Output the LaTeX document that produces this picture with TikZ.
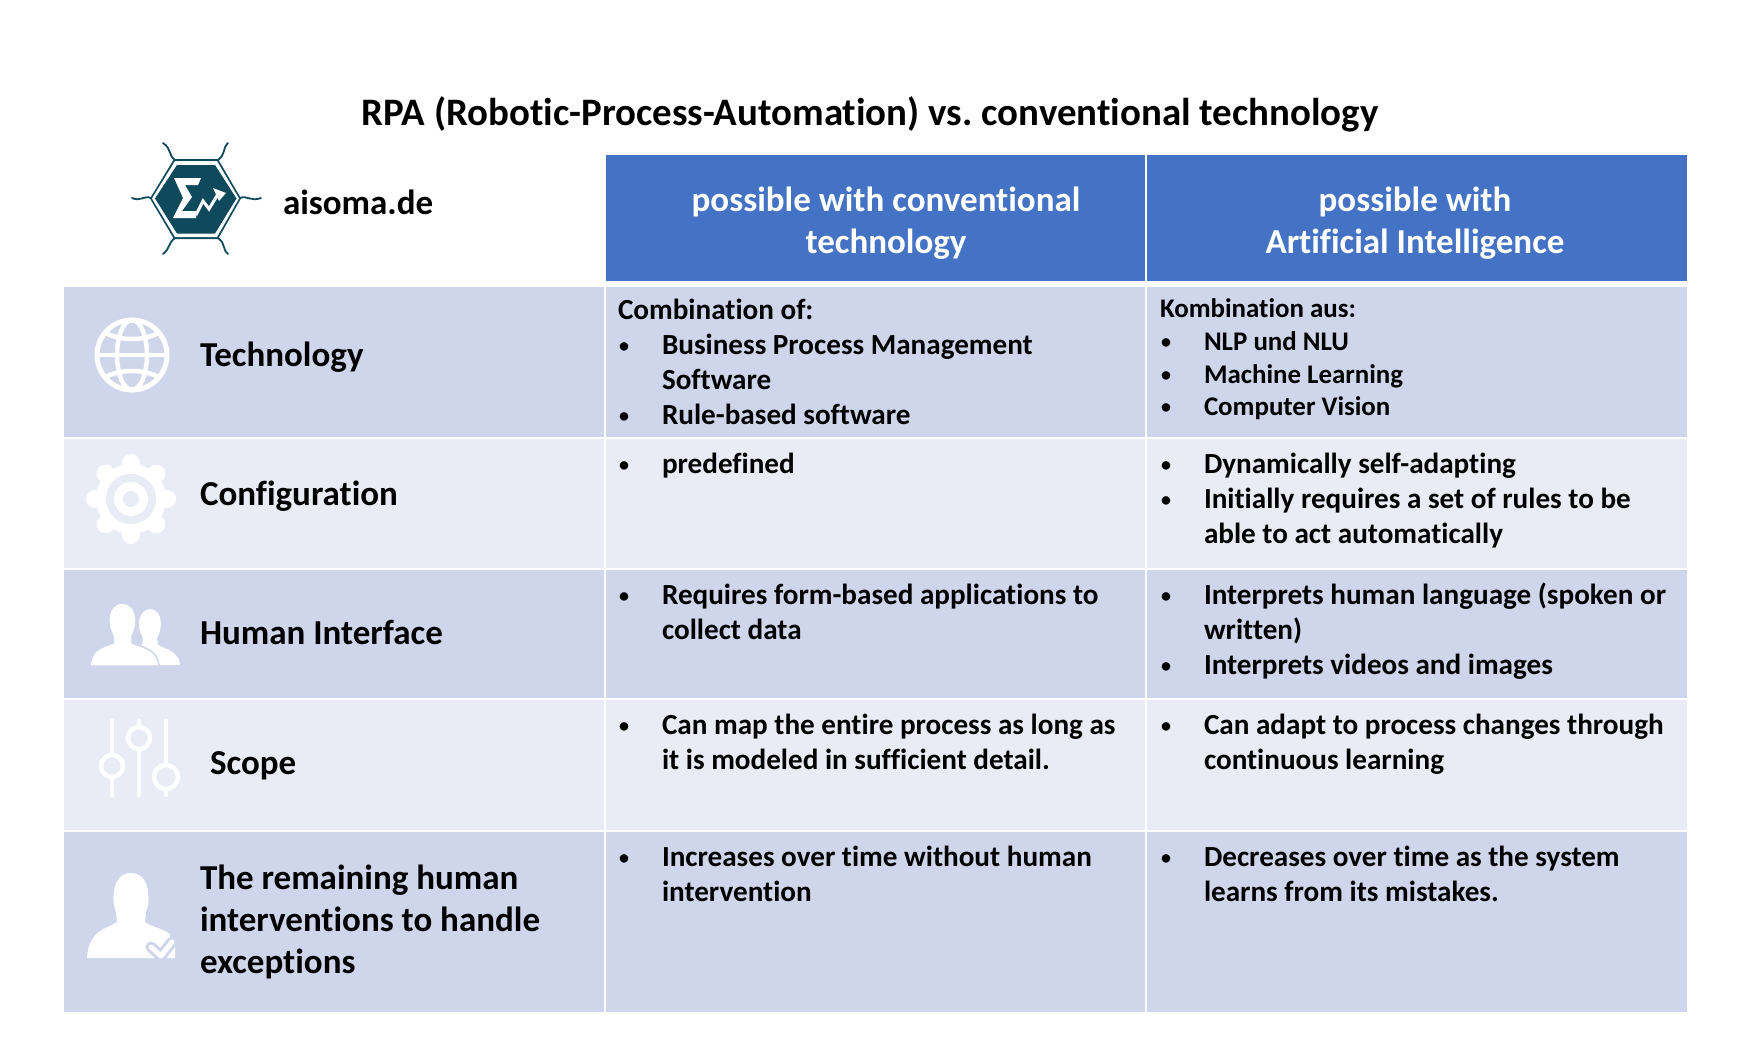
\documentclass[tikz,border=0pt]{standalone}
\usepackage{fontspec}
\setmainfont{Carlito}[BoldFont={Carlito Bold},Ligatures=NoCommon]
\usetikzlibrary{positioning,calc}
\definecolor{headblue}{HTML}{4472C4}
\definecolor{rowdark}{HTML}{CFD5EA}
\definecolor{rowlight}{HTML}{E9EBF5}
\definecolor{logoteal}{HTML}{0F4A5C}
\newcommand{\fsize}[2]{\fontsize{#1}{#2}\selectfont\bfseries\frenchspacing}
\newcommand{\bul}[1]{\par\noindent\hangindent=44pt\hangafter=1\hbox to 44pt{\hspace{1pt}\raisebox{2pt}{\fontsize{20}{20}\selectfont •}\hfil}#1\par}
\tikzset{
  basic/.style  = {rectangle, inner sep=0pt, outer sep=0pt},
  row dark/.style = {basic, fill=rowdark},
  row light/.style = {basic, fill=rowlight},
  col a/.style = {minimum width=540pt},
  col b/.style = {minimum width=539pt},
  head/.style = {basic, fill=headblue, minimum height=126pt},
  head text/.style = {basic, text=white, align=center, font=\fsize{35}{42}},
  label/.style = {basic, align=left, font=\fsize{35}{42}},
  cell text/.style = {basic, text width=510pt, align=flush left, font=\fsize{29.15}{35}},
  small text/.style = {cell text, font=\fsize{26.9}{32.6}},
  icon/.style = {white, line width=4.5pt},
  tentacle/.style = {logoteal, line width=1.8pt, line cap=round}
}
\begin{document}
\begin{tikzpicture}[x=1pt,y=-1pt,node distance=2pt]
\useasboundingbox (0,0) rectangle (1762,1041);
\fill[white] (0,0) rectangle (1762,1041);

\node[basic, font=\fsize{38.9}{44}] (title) at (870,114) {RPA (Robotic-Process-Automation) vs. conventional technology};

% table, left column
\node[row dark, col a, minimum height=150pt, anchor=north west] (a1) at (64,287) {};
\node[row light, col a, minimum height=129pt, below=of a1] (a2) {};
\node[row dark, col a, minimum height=128pt, below=of a2] (a3) {};
\node[row light, col a, minimum height=130pt, below=of a3] (a4) {};
\node[row dark, col a, minimum height=180pt, below=of a4] (a5) {};
% middle column
\node[row dark, col b, minimum height=150pt, right=of a1] (b1) {};
\node[row light, col b, minimum height=129pt, right=of a2] (b2) {};
\node[row dark, col b, minimum height=128pt, right=of a3] (b3) {};
\node[row light, col b, minimum height=130pt, right=of a4] (b4) {};
\node[row dark, col b, minimum height=180pt, right=of a5] (b5) {};
% right column
\node[row dark, col a, minimum height=150pt, right=of b1] (c1) {};
\node[row light, col a, minimum height=129pt, right=of b2] (c2) {};
\node[row dark, col a, minimum height=128pt, right=of b3] (c3) {};
\node[row light, col a, minimum height=130pt, right=of b4] (c4) {};
\node[row dark, col a, minimum height=180pt, right=of b5] (c5) {};
% header
\node[head, col b, above=6pt of b1] (hb) {};
\node[head, col a, above=6pt of c1] (hc) {};
\node[head text] (tb0) at (886,223) {possible with conventional\\technology};
\node[head text] (tc0) at (1415,223) {possible with\\Artificial Intelligence};

% row labels
\node[label, anchor=west] (l1) at (200,357) {Technology};
\node[label, anchor=west] (l2) at (200,496) {Configuration};
\node[label, anchor=west] (l3) at (200,632) {Human Interface};
\node[label, anchor=west] (l4) at (210,766) {Scope};
\node[label, anchor=west] (l5) at (200,922) {The remaining human\\interventions to handle\\exceptions};
\node[label, anchor=west] (site) at (283,202) {aisoma.de};

% cell texts
\node[cell text, below right=12pt and 12pt of b1.north west] (tb1) {Combination of:\bul{Business Process Management\newline Software}\bul{Rule-based software}};
\node[small text, below right=12pt and 13pt of c1.north west] (tc1) {Kombination aus:\bul{NLP und NLU}\bul{Machine Learning}\bul{Computer Vision}};
\node[cell text, below right=-1pt and 12pt of b2.north west] (tb2) {\bul{predefined}};
\node[cell text, below right=-1pt and 13pt of c2.north west] (tc2) {\bul{Dynamically self-adapting}\bul{Initially requires a set of rules to be\newline able to act automatically}};
\node[cell text, below right=-1pt and 12pt of b3.north west] (tb3) {\bul{Requires form-based applications to\newline collect data}};
\node[cell text, below right=-1pt and 13pt of c3.north west] (tc3) {\bul{Interprets human language (spoken or\newline written)}\bul{Interprets videos and images}};
\node[cell text, below right=-1pt and 12pt of b4.north west] (tb4) {\bul{Can map the entire process as long as\newline it is modeled in sufficient detail.}};
\node[cell text, below right=-1pt and 13pt of c4.north west] (tc4) {\bul{Can adapt to process changes through\newline continuous learning}};
\node[cell text, below right=-1pt and 12pt of b5.north west] (tb5) {\bul{Increases over time without human\newline intervention}};
\node[cell text, below right=-1pt and 13pt of c5.north west] (tc5) {\bul{Decreases over time as the system\newline learns from its mistakes.}};

% logo
\fill[logoteal] (150,198.5) -- (174,159) -- (218,159) -- (241,198.5) -- (218,239) -- (174,239) -- cycle;
\fill[white] (152,198.5) -- (175,161) -- (217,161) -- (239,198.5) -- (217,237) -- (175,237) -- cycle;
\fill[logoteal] (155,198.5) -- (177,165) -- (215,165) -- (236.5,198.5) -- (215,233.5) -- (177,233.5) -- cycle;
\draw[tentacle] (175,160) .. controls (168,155) and (172,149) .. (163,143);
\draw[tentacle] (218,160) .. controls (226,154) and (222,149) .. (228,143);
\draw[tentacle] (240,198) .. controls (247,195) and (251,202) .. (261,198);
\draw[tentacle] (218,238) .. controls (226,244) and (222,249) .. (228,254);
\draw[tentacle] (175,238) .. controls (168,243) and (170,249) .. (163,254);
\draw[tentacle] (151,198) .. controls (144,195) and (141,202) .. (132,198);
\fill[white] (174,178) -- (201,178) -- (198,185) -- (185,185) -- (192,197) -- (182,211) -- (197,211) -- (196,218) -- (173,218) -- (183,198) -- cycle;
\draw[white, line width=3pt] (196,215) -- (203,201) -- (209,209) -- (218,194);
\fill[white] (213,188) -- (226,193) -- (219,201) -- cycle;

% globe
\draw[icon, line width=5pt] (132,355) circle (35);
\draw[icon] (132,355) ellipse (15 and 35);
\draw[icon] (97,355) -- (167,355);
\draw[icon] (105,333) .. controls (122,341) and (142,341) .. (159,333);
\draw[icon] (105,377) .. controls (122,369) and (142,369) .. (159,377);

% gear
\fill[white] (131,499) circle (35);
\foreach \ang in {0,45,...,315}
  \fill[white] ($(131,499)+(\ang:36)$) circle (9);
\fill[rowlight] (131,499) circle (25);
\fill[white] (131,499) circle (17);
\fill[rowlight] (131,499) circle (8);

% two persons
\fill[white] (180,665) .. controls (179,652) and (168,650) .. (158,645) -- (157,638)
  .. controls (163,628) and (163,610) .. (150,609) .. controls (138,610) and (136,628) .. (143,638)
  -- (142,645) .. controls (134,650) and (130,655) .. (130,665) -- cycle;
\fill[white, draw=rowdark, line width=1.5pt] (159,666) .. controls (158,650) and (145,648) .. (132,643) -- (132,636)
  .. controls (139,625) and (138,603) .. (122,603) .. controls (107,603) and (106,625) .. (113,636)
  -- (113,643) .. controls (100,648) and (91,650) .. (90,666) -- cycle;

% sliders
\foreach \sx/\sy/\sr in {112/766/11, 139/738/11, 166/777/12} {
  \draw[icon, line cap=round] (\sx,721) -- (\sx,795);
  \draw[icon, fill=rowlight] (\sx,\sy) circle (\sr);
}

% person with check mark
\fill[white] (175,958) -- (175,940) .. controls (168,928) and (152,928) .. (145,922) -- (146,912)
  .. controls (151,900) and (150,873) .. (131,873) .. controls (112,873) and (111,900) .. (116,912)
  -- (117,922) .. controls (105,930) and (89,930) .. (87,958) -- cycle;
\draw[rowdark, line width=12pt, line cap=round, line join=round] (178,934) -- (176,936);
\draw[rowdark, line width=11pt, line cap=round, line join=round] (151,947) -- (161,956) -- (172,942);
\draw[white, line width=5pt, line cap=round, line join=round] (151,947) -- (161,956) -- (172,942);

\end{tikzpicture}
\end{document}
